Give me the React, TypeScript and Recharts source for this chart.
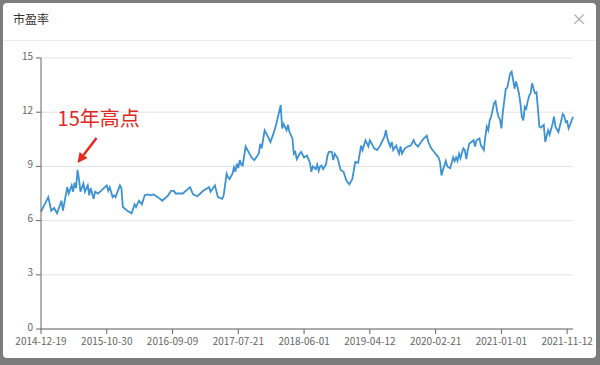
import { LineChart, Line, XAxis, YAxis, CartesianGrid, ReferenceDot } from 'recharts';

// weekly P/E readings, x = weeks since 2014-12-19
const weekIdx = [
  0, 5, 7, 9, 11, 14, 15, 18, 19, 21, 22, 23, 24, 25, 26, 27, 29, 30, 32, 33,
  34, 36, 37, 39, 41, 43, 45, 46, 47, 49, 50, 51, 54, 55, 56, 59, 62, 64, 65, 67,
  69, 71, 73, 75, 77, 80, 83, 87, 89, 91, 92, 97, 102, 104, 107, 109, 111, 115, 116, 119,
  121, 124, 125, 127, 128, 129, 131, 132, 133, 134, 135, 136, 137, 138, 140, 142, 144, 146, 149, 150,
  151, 153, 155, 157, 159, 161, 164, 165, 166, 168, 169, 170, 172, 173, 174, 175, 177, 178, 180, 182,
  183, 184, 185, 186, 188, 189, 190, 191, 192, 193, 195, 196, 197, 199, 200, 201, 203, 205, 207, 209,
  211, 213, 215, 217, 219, 220, 222, 224, 225, 227, 228, 230, 232, 235, 236, 237, 238, 239, 240, 241,
  243, 245, 246, 247, 249, 251, 253, 255, 256, 258, 260, 262, 264, 265, 267, 269, 271, 272, 273, 274,
  275, 277, 278, 280, 282, 283, 284, 285, 286, 287, 288, 289, 290, 291, 292, 293, 296, 297, 298, 300,
  301, 302, 303, 304, 305, 306, 307, 308, 310, 311, 312, 313, 314, 315, 316, 318, 319, 321, 322, 323,
  324, 325, 326, 327, 328, 329, 330, 331, 332, 333, 334, 335, 336, 337, 338, 339, 340, 341, 342, 344,
  345, 346, 347, 348, 350, 351, 352, 354, 356, 357, 358, 359, 360, 361, 362, 364,
];

const peValues = [
  6.5, 7.3, 6.55, 6.7, 6.4, 7.1, 6.55, 7.85, 7.5, 7.95, 7.6, 8.1, 7.8, 8.8, 8.3, 7.6, 8.05, 7.6, 7.95, 7.4,
  7.8, 7.2, 7.6, 7.5, 7.65, 7.8, 7.95, 7.65, 7.85, 7.3, 7.4, 7.3, 7.95, 7.8, 6.75, 6.55, 6.4, 6.9, 6.75, 7.1,
  6.9, 7.4, 7.45, 7.4, 7.45, 7.3, 7.1, 7.4, 7.65, 7.65, 7.5, 7.5, 7.85, 7.45, 7.35, 7.5, 7.65, 7.85, 7.6, 7.95,
  7.3, 7.2, 7.4, 8.6, 8.4, 8.3, 8.6, 8.95, 8.7, 9.15, 8.9, 9.35, 9.1, 9.05, 10.1, 9.8, 9.5, 9.35, 9.7, 10.25,
  10.0, 11.0, 10.7, 10.35, 10.8, 11.35, 12.4, 11.1, 11.35, 11.0, 11.3, 10.9, 10.55, 9.7, 9.8, 9.4, 9.7, 9.8, 9.5, 9.6,
  9.4, 9.2, 8.7, 9.0, 8.85, 9.1, 8.75, 9.0, 9.05, 8.85, 9.1, 9.6, 9.8, 9.8, 9.35, 9.7, 9.45, 8.8, 8.7, 8.2,
  8.0, 8.3, 9.25, 9.2, 10.15, 9.9, 10.45, 10.1, 10.45, 10.15, 10.0, 9.9, 10.15, 10.65, 11.0, 10.55, 10.3, 10.1, 10.35, 9.9,
  10.15, 9.7, 10.1, 9.7, 10.0, 10.1, 10.15, 10.45, 10.25, 10.1, 10.35, 10.55, 10.7, 10.35, 10.0, 9.8, 9.6, 9.5, 9.25, 8.5,
  8.8, 9.3, 9.0, 8.9, 9.5, 9.3, 9.5, 9.3, 9.7, 9.45, 9.75, 10.0, 9.9, 9.4, 9.9, 10.25, 10.45, 10.1, 10.45, 10.55,
  10.15, 10.05, 9.9, 10.65, 11.2, 11.0, 11.55, 11.75, 12.5, 12.6, 12.1, 11.75, 11.6, 11.1, 12.0, 13.3, 13.35, 14.15, 14.25, 13.8,
  13.3, 13.7, 13.4, 13.05, 12.5, 11.75, 11.55, 12.3, 12.2, 12.6, 12.9, 13.05, 13.6, 13.3, 13.05, 13.1, 12.2, 11.2, 11.15, 11.3,
  10.35, 10.7, 11.0, 10.75, 11.35, 11.75, 11.2, 10.9, 11.55, 11.9, 11.8, 11.45, 11.5, 11.1, 11.3, 11.75,
];

const tickWeeks = [0, 45, 90, 135, 180, 225, 270, 315, 360];
const tickLabels = [
  '2014-12-19', '2015-10-30', '2016-09-09', '2017-07-21', '2018-06-01',
  '2019-04-12', '2020-02-21', '2021-01-01', '2021-11-12',
];
const yTicks = [0, 3, 6, 9, 12, 15];

const peakWeek = 25;
const peakValue = 8.8;

const data = weekIdx.map((w, i) => ({ week: w, pe: peValues[i] }));

const font = "'Noto Sans CJK SC', 'Noto Sans', sans-serif";

const PeakNote = (props: any) => {
  const { cx, cy } = props;
  if (cx == null || cy == null) return null;
  return (
    <g>
      <line x1={cx + 19} y1={cy - 32} x2={cx + 6} y2={cy - 15} stroke="#e8291f" strokeWidth={2.5} />
      <polygon points={`${cx},${cy - 7} ${cx + 10},${cy - 12} ${cx + 2},${cy - 18}`} fill="#e8291f" />
      <text x={cx - 20} y={cy - 44} fill="#e02a1f" fontSize={20} fontFamily={font}>
        15年高点
      </text>
    </g>
  );
};

// y labels sit a touch above their tick, like the original
const YTick = (props: any) => {
  const { x, y, payload } = props;
  return (
    <text x={x} y={y - 2} dy="0.35em" textAnchor="end" fill="#666" fontSize={10} fontFamily={font}>
      {payload.value}
    </text>
  );
};

export default function App() {
  return (
    <div style={{ position: 'absolute', left: 0, top: 0, width: 600, height: 365, background: '#7c7c7c', fontFamily: font }}>
      <div style={{ position: 'absolute', left: 3, top: 3, width: 593, height: 355, background: '#fff', borderRadius: 4 }} />
      <div style={{ position: 'absolute', left: 13, top: 10, fontSize: 12, color: '#333', lineHeight: '18px' }}>市盈率</div>
      <div style={{ position: 'absolute', left: 571, top: 9, fontSize: 16, color: '#aaa', lineHeight: '18px' }}>×</div>
      <div style={{ position: 'absolute', left: 3, top: 40, width: 593, height: 1, background: '#ececec' }} />

      <div style={{ position: 'absolute', left: 0, top: 0 }}>
        <LineChart width={600} height={365} data={data} margin={{ top: 58, right: 27, bottom: 6, left: 8 }}>
          <CartesianGrid vertical={false} stroke="#e3e3e3" />
          <XAxis
            dataKey="week"
            type="number"
            domain={[0, 364]}
            ticks={tickWeeks}
            interval={0}
            tickFormatter={(v) => tickLabels[tickWeeks.indexOf(v)]}
            height={30}
            tickSize={5}
            tickMargin={4}
            stroke="#666"
            tick={{ fill: '#666', fontSize: 10, fontFamily: font }}
          />
          <YAxis
            domain={[0, 15]}
            ticks={yTicks}
            width={33}
            tickSize={5}
            tickMargin={3}
            stroke="#666"
            tick={<YTick />}
          />
          <Line
            type="linear"
            dataKey="pe"
            stroke="#3d92d3"
            strokeWidth={1.8}
            dot={false}
            activeDot={false}
            isAnimationActive={false}
          />
          <ReferenceDot x={peakWeek} y={peakValue} shape={PeakNote} />
        </LineChart>
      </div>
    </div>
  );
}
